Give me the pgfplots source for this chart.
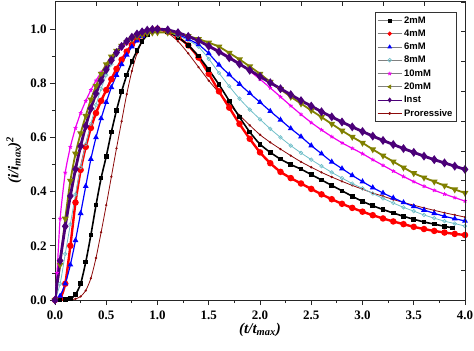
\documentclass[border=0pt]{standalone}
\usepackage{pgfplots}
\pgfplotsset{compat=1.18}
\usepackage{pgfplotstable}
\usepackage{fontspec}
\setmainfont{Liberation Serif}
\newfontfamily\lsans{Liberation Sans}
\definecolor{cyanc}{RGB}{110,190,200}
\definecolor{olivec}{RGB}{128,128,0}
\definecolor{instc}{RGB}{75,0,120}
\definecolor{progc}{RGB}{140,10,10}
\definecolor{magc}{RGB}{240,0,240}

\pgfplotstableread{
x y
0 0
0.05 0
0.1 0.001
0.15 0.005
0.2 0.02
0.25 0.06
0.3 0.14
0.35 0.24
0.4 0.35
0.45 0.45
0.5 0.53
0.55 0.62
0.6 0.70
0.65 0.77
0.7 0.83
0.75 0.88
0.8 0.92
0.85 0.955
0.9 0.978
0.95 0.993
1.0 1.0
1.1 0.99
1.2 0.97
1.3 0.94
1.4 0.90
1.5 0.85
1.6 0.795
1.7 0.735
1.8 0.675
1.9 0.62
2.0 0.575
2.1 0.545
2.2 0.52
2.3 0.50
2.4 0.483
2.5 0.463
2.6 0.443
2.7 0.423
2.8 0.403
2.9 0.383
3.0 0.364
3.1 0.348
3.2 0.334
3.3 0.321
3.4 0.309
3.5 0.298
3.6 0.288
3.7 0.28
3.8 0.272
3.88 0.266
}\tblack

\pgfplotstableread{
x y
0 0
0.05 0.005
0.1 0.06
0.15 0.2
0.2 0.36
0.25 0.48
0.3 0.565
0.35 0.635
0.4 0.69
0.45 0.735
0.5 0.775
0.55 0.815
0.6 0.853
0.65 0.887
0.7 0.917
0.75 0.942
0.8 0.962
0.85 0.977
0.9 0.988
0.95 0.996
1.0 1.0
1.1 0.99
1.2 0.97
1.3 0.94
1.4 0.895
1.5 0.835
1.6 0.77
1.7 0.71
1.8 0.65
1.9 0.595
2.0 0.545
2.1 0.505
2.2 0.473
2.3 0.45
2.4 0.43
2.5 0.41
2.6 0.39
2.7 0.372
2.8 0.355
2.9 0.34
3.0 0.326
3.1 0.313
3.2 0.301
3.3 0.29
3.4 0.28
3.5 0.27
3.6 0.262
3.7 0.255
3.8 0.249
3.9 0.244
4.0 0.24
}\tred

\pgfplotstableread{
x y
0 0
0.05 0.015
0.1 0.06
0.15 0.13
0.2 0.22
0.25 0.32
0.3 0.42
0.35 0.52
0.4 0.60
0.45 0.67
0.5 0.73
0.55 0.785
0.6 0.83
0.65 0.87
0.7 0.905
0.75 0.935
0.8 0.957
0.85 0.974
0.9 0.987
0.95 0.996
1.0 1.0
1.1 0.993
1.2 0.98
1.3 0.963
1.4 0.943
1.5 0.91
1.6 0.868
1.7 0.832
1.8 0.797
1.9 0.763
2.0 0.73
2.1 0.697
2.2 0.665
2.3 0.633
2.4 0.603
2.5 0.57
2.6 0.54
2.7 0.51
2.8 0.485
2.9 0.46
3.0 0.437
3.1 0.415
3.2 0.395
3.3 0.377
3.4 0.36
3.5 0.345
3.6 0.332
3.7 0.32
3.8 0.309
3.9 0.30
4.0 0.292
}\tblue

\pgfplotstableread{
x y
0 0
0.05 0.06
0.1 0.17
0.15 0.28
0.2 0.39
0.25 0.49
0.3 0.575
0.35 0.65
0.4 0.72
0.45 0.78
0.5 0.83
0.55 0.87
0.6 0.905
0.65 0.932
0.7 0.953
0.75 0.97
0.8 0.982
0.85 0.99
0.9 0.996
0.95 0.999
1.0 1.0
1.1 0.99
1.2 0.975
1.3 0.958
1.4 0.935
1.5 0.89
1.6 0.838
1.7 0.789
1.8 0.743
1.9 0.703
2.0 0.667
2.1 0.632
2.2 0.60
2.3 0.57
2.4 0.543
2.5 0.518
2.6 0.494
2.7 0.471
2.8 0.45
2.9 0.43
3.0 0.412
3.1 0.393
3.2 0.375
3.3 0.358
3.4 0.342
3.5 0.328
3.6 0.314
3.7 0.302
3.8 0.291
3.9 0.282
4.0 0.273
}\tcyan

\pgfplotstableread{
x y
0 0
0.02 0.1
0.05 0.3
0.1 0.47
0.15 0.565
0.2 0.635
0.25 0.69
0.3 0.735
0.35 0.775
0.4 0.81
0.45 0.84
0.5 0.865
0.55 0.89
0.6 0.91
0.65 0.93
0.7 0.947
0.75 0.961
0.8 0.973
0.85 0.983
0.9 0.991
0.95 0.997
1.0 1.0
1.1 0.995
1.2 0.985
1.3 0.972
1.4 0.958
1.5 0.94
1.6 0.92
1.7 0.898
1.8 0.873
1.9 0.845
2.0 0.815
2.1 0.783
2.2 0.75
2.3 0.717
2.4 0.685
2.5 0.655
2.6 0.628
2.7 0.603
2.8 0.58
2.9 0.56
3.0 0.54
3.1 0.518
3.2 0.497
3.3 0.476
3.4 0.456
3.5 0.437
3.6 0.42
3.7 0.405
3.8 0.391
3.9 0.378
4.0 0.365
}\tmag

\pgfplotstableread{
x y
0 0
0.05 0.13
0.1 0.30
0.15 0.44
0.2 0.54
0.25 0.615
0.3 0.68
0.35 0.74
0.4 0.79
0.45 0.835
0.5 0.87
0.55 0.898
0.6 0.92
0.65 0.938
0.7 0.952
0.75 0.963
0.8 0.972
0.85 0.979
0.9 0.984
0.95 0.987
1.0 0.988
1.1 0.987
1.2 0.982
1.3 0.974
1.4 0.963
1.5 0.95
1.6 0.935
1.7 0.912
1.8 0.888
1.9 0.862
2.0 0.835
2.1 0.805
2.2 0.778
2.3 0.75
2.4 0.725
2.5 0.70
2.6 0.675
2.7 0.65
2.8 0.625
2.9 0.602
3.0 0.58
3.1 0.556
3.2 0.533
3.3 0.511
3.4 0.489
3.5 0.468
3.6 0.452
3.7 0.437
3.8 0.422
3.9 0.408
4.0 0.395
}\tolive

\pgfplotstableread{
x y
0 0
0.05 0.145
0.1 0.272
0.15 0.384
0.2 0.483
0.25 0.568
0.3 0.642
0.35 0.707
0.4 0.762
0.45 0.810
0.5 0.850
0.55 0.885
0.6 0.913
0.65 0.936
0.7 0.955
0.75 0.970
0.8 0.982
0.85 0.990
0.9 0.996
0.95 0.999
1.0 1.0
1.1 0.997
1.2 0.987
1.3 0.973
1.4 0.957
1.5 0.937
1.6 0.916
1.7 0.894
1.8 0.871
1.9 0.848
2.0 0.825
2.1 0.802
2.2 0.780
2.3 0.758
2.4 0.736
2.5 0.716
2.6 0.695
2.7 0.676
2.8 0.657
2.9 0.639
3.0 0.622
3.1 0.605
3.2 0.589
3.3 0.574
3.4 0.559
3.5 0.545
3.6 0.531
3.7 0.518
3.8 0.506
3.9 0.494
4.0 0.482
}\tinst

\pgfplotstableread{
x y
0 0
0.05 0
0.1 0
0.15 0.001
0.2 0.004
0.25 0.013
0.3 0.035
0.35 0.08
0.4 0.155
0.45 0.25
0.5 0.35
0.55 0.455
0.6 0.56
0.65 0.66
0.7 0.76
0.75 0.845
0.8 0.91
0.85 0.955
0.9 0.983
0.95 0.996
1.0 1.0
1.1 0.986
1.2 0.955
1.3 0.91
1.4 0.86
1.5 0.81
1.6 0.765
1.7 0.722
1.8 0.682
1.9 0.645
2.0 0.61
2.1 0.582
2.2 0.557
2.3 0.533
2.4 0.51
2.5 0.49
2.6 0.471
2.7 0.454
2.8 0.438
2.9 0.423
3.0 0.409
3.1 0.395
3.2 0.383
3.3 0.371
3.4 0.36
3.5 0.35
3.6 0.34
3.7 0.331
3.8 0.322
3.9 0.314
4.0 0.306
}\tprog

\begin{document}
\begin{tikzpicture}
\useasboundingbox (0,0) rectangle (474bp,351bp);
\begin{axis}[
  at={(55bp,51bp)}, anchor=south west,
  scale only axis, width=410bp, height=298bp,
  xmin=0, xmax=4, ymin=0, ymax=1.1,
  xtick={0,0.5,...,4}, ytick={0,0.2,...,1.0},
  minor x tick num=1, minor y tick num=1,
  xtick pos=bottom, ytick pos=left,
  tick align=outside,
  major tick length=5bp, minor tick length=3bp,
  axis line style={line width=1pt, black!85},
  every tick/.style={line width=0.8pt, black!85},
  /pgf/number format/assume math mode=true,
  /pgf/number format/.cd, fixed, fixed zerofill, precision=1, /pgfplots/.cd,
  tick label style={font=\fontsize{13}{15}\selectfont\bfseries},
  xticklabel style={yshift=-2bp},
  xlabel={(\textit{t}/\textit{t}\textsubscript{\textit{max}})},
  ylabel={(\textit{i}/\textit{i}\textsubscript{\textit{max}})\textsuperscript{2}},
  xlabel style={font=\fontsize{15}{17}\selectfont\bfseries\itshape, at={(axis description cs:0.5,-0.1)}, anchor=center},
  ylabel style={font=\fontsize{15}{17}\selectfont\bfseries\itshape, at={(axis description cs:-0.1,0.47)}, anchor=center},
  clip=true,
  legend style={at={(0.98,0.966)}, anchor=north east, draw=black!80, line width=0.6pt,
    font=\lsans\bfseries\fontsize{9.5}{11}\selectfont, row sep=1.2bp, inner sep=2bp},
  legend cell align=left,
  legend image code/.code={\draw[mark repeat=2,mark phase=2,#1] plot coordinates {(0bp,0bp) (12bp,0bp) (24bp,0bp)};},
]
\addplot[progc, line width=0.8pt, mark=*, mark size=0.7pt, smooth, tension=0.4, forget plot] table {\tprog};
\addplot[red, line width=2.4pt, mark=*, mark size=2pt, smooth, tension=0.4, forget plot] table {\tred};
\addplot[black, line width=1.6pt, mark=square*, mark size=1.5pt, smooth, tension=0.4, forget plot] table {\tblack};
\addplot[cyanc, line width=0.8pt, mark=o, mark size=1.8pt, mark options={fill=white, line width=0.6pt}, smooth, tension=0.4, forget plot] table {\tcyan};
\addplot[blue, line width=1.2pt, mark=triangle*, mark size=2.2pt, smooth, tension=0.4, forget plot] table {\tblue};
\addplot[magc, line width=1.2pt, mark=star, mark size=2pt, mark options={line width=0.9pt}, smooth, tension=0.4, forget plot] table {\tmag};
\addplot[olivec, line width=1.8pt, mark=triangle*, mark size=2.2pt, mark options={rotate=180}, smooth, tension=0.4, forget plot] table {\tolive};
\addplot[instc, line width=2.8pt, mark=diamond*, mark size=2.2pt, smooth, tension=0.4, forget plot] table {\tinst};

\addlegendimage{gray, line width=0.7pt, mark=square*, mark size=1.6pt, mark options={black, solid}}
\addlegendentry{2mM}
\addlegendimage{gray, line width=0.7pt, mark=*, mark size=1.8pt, mark options={red, solid}}
\addlegendentry{4mM}
\addlegendimage{gray, line width=0.7pt, mark=triangle*, mark size=2pt, mark options={blue, solid}}
\addlegendentry{6mM}
\addlegendimage{gray, line width=0.7pt, mark=o, mark size=1.8pt, mark options={cyanc, fill=white, solid}}
\addlegendentry{8mM}
\addlegendimage{gray, line width=0.7pt, mark=star, mark size=2pt, mark options={magc, solid, line width=0.9pt}}
\addlegendentry{10mM}
\addlegendimage{gray, line width=0.7pt, mark=triangle*, mark size=2pt, mark options={olivec, solid, rotate=90}}
\addlegendentry{20mM}
\addlegendimage{instc, line width=0.8pt, mark=diamond*, mark size=2pt, mark options={instc, solid}}
\addlegendentry{Inst}
\addlegendimage{progc, line width=0.8pt, mark=*, mark size=1pt, mark options={progc, solid}}
\addlegendentry{Proressive}
\end{axis}
\begin{axis}[
  at={(55bp,51bp)}, anchor=south west,
  scale only axis, width=410bp, height=298bp,
  xmin=0, xmax=10, ymin=0, ymax=10,
  axis x line*=top, axis y line*=right,
  xtick={0,...,10}, ytick={0,...,10},
  xticklabels={}, yticklabels={},
  tick align=inside, major tick length=4bp,
  axis line style={line width=1pt, black!85},
  every tick/.style={line width=0.8pt, black!85},
]
\end{axis}
\end{tikzpicture}
\end{document}
